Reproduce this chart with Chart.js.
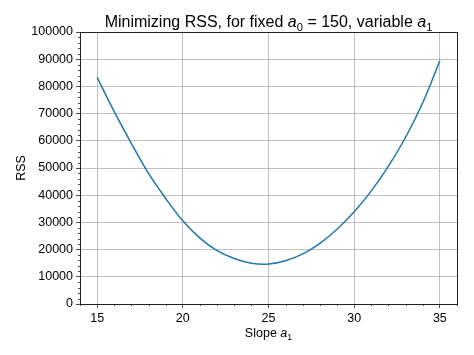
<!DOCTYPE html>
<html>
<head>
<meta charset="utf-8">
<script src="https://cdn.jsdelivr.net/npm/chart.js@4.4.0/dist/chart.umd.min.js"></script>
<style>
html,body{margin:0;padding:0;background:#fff;}
#wrap{width:474px;height:355px;position:relative;}
</style>
</head>
<body>
<div id="wrap"><canvas id="c" width="474" height="355"></canvas></div>
<script>
// Slope values a1 (x) and RSS
const slopeValues = [15,16,17,18,19,20,21,22,23,24,25,26,27,28,29,30,31,32,33,34,35];
const rssValues = [83300,70700,59000,48000,38800,30600,24200,19600,16700,15000,14700,15900,18400,22300,27500,33900,41600,50700,61300,74000,89400];
const xTickLabels = [15,20,25,30,35];
const yTickLabels = [0,10000,20000,30000,40000,50000,60000,70000,80000,90000,100000];
const xMinorTicks = [14,16,17,18,19,21,22,23,24,26,27,28,29,31,32,33,34,36];

const FONT = '"Liberation Sans", Arial, Helvetica, sans-serif';

function drawRich(ctx, parts, cx, baseline, size) {
  const fontFor = s => s === 'i' ? `italic ${size}px ${FONT}` : (s === 's' ? `${size*0.7}px ${FONT}` : `${size}px ${FONT}`);
  let total = 0;
  const widths = parts.map(p => { ctx.font = fontFor(p[1]); const w = ctx.measureText(p[0]).width; total += w; return w; });
  let x = cx - total/2;
  ctx.fillStyle = '#000';
  ctx.textAlign = 'left';
  ctx.textBaseline = 'alphabetic';
  parts.forEach((p,i) => {
    ctx.font = fontFor(p[1]);
    ctx.fillText(p[0], x, baseline + (p[1]==='s' ? size*0.22 : 0));
    x += widths[i];
  });
}

const decor = {
  id: 'decor',
  afterDraw(chart) {
    const ctx = chart.ctx, a = chart.chartArea;
    const xs = chart.scales.x, ys = chart.scales.y;
    ctx.save();
    ctx.strokeStyle = '#222';
    ctx.lineWidth = 1;
    ctx.strokeRect(Math.round(a.left)+0.5, Math.round(a.top)+0.5, Math.round(a.right-a.left), Math.round(a.bottom-a.top));
    ctx.beginPath();
    xMinorTicks.forEach(v => {
      const px = Math.round(xs.getPixelForValue(v)) + 0.5;
      ctx.moveTo(px, a.bottom); ctx.lineTo(px, a.bottom + 2);
    });
    for (let v = 0; v <= 100000; v += 2000) {
      if (v % 10000 === 0) continue;
      const py = Math.round(ys.getPixelForValue(v)) + 0.5;
      ctx.moveTo(a.left, py); ctx.lineTo(a.left - 2, py);
    }
    ctx.strokeStyle = '#222';
    ctx.lineWidth = 0.8;
    ctx.stroke();
    const cx = (a.left + a.right)/2;
    drawRich(ctx, [['Minimizing RSS, for fixed ','n'],['a','i'],['0','s'],[' = 150, variable ','n'],['a','i'],['1','s']], cx, 27, 16);
    drawRich(ctx, [['Slope ','n'],['a','i'],['1','s']], cx, 337, 12.5);
    ctx.restore();
  }
};

new Chart(document.getElementById('c'), {
  type: 'line',
  data: {
    datasets: [{
      data: slopeValues.map((x,i) => ({x, y: rssValues[i]})),
      borderColor: '#1f77b4',
      borderWidth: 1.5,
      pointRadius: 0,
      fill: false,
      tension: 0.4
    }]
  },
  options: {
    responsive: false,
    animation: false,
    devicePixelRatio: 1,
    layout: { padding: { top: 32, right: 17, bottom: 0, left: 0 } },
    plugins: { legend: { display: false }, tooltip: { enabled: false }, title: { display: false } },
    scales: {
      x: {
        type: 'linear', min: 14, max: 36,
        afterBuildTicks: s => { s.ticks = xTickLabels.map(v => ({value: v})); },
        afterFit: s => { s.height = 51; },
        ticks: { color: '#000', font: { size: 12.5, family: FONT }, padding: 3, maxRotation: 0, callback: v => String(v) },
        grid: { color: '#b0b0b0', lineWidth: 0.8, tickColor: '#222', tickLength: 4 },
        border: { display: true, color: '#222', width: 1 }
      },
      y: {
        type: 'linear', min: 0, max: 100000,
        afterBuildTicks: s => { s.ticks = yTickLabels.map(v => ({value: v})); },
        afterFit: s => { s.width = 80; },
        ticks: { color: '#000', font: { size: 12.5, family: FONT }, padding: 3, callback: v => String(v) },
        grid: { color: '#b0b0b0', lineWidth: 0.8, tickColor: '#222', tickLength: 4 },
        border: { display: true, color: '#222', width: 1 },
        title: { display: true, text: 'RSS', color: '#000', font: { size: 12.5, family: FONT }, padding: { top: 14, bottom: 0 } }
      }
    }
  },
  plugins: [decor]
});
</script>
</body>
</html>
